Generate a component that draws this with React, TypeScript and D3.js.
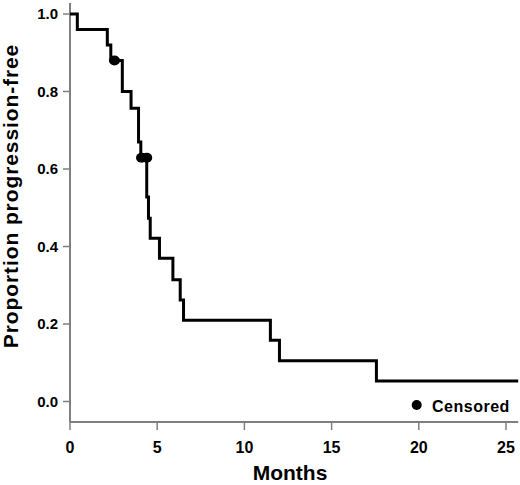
import React from "react";
import * as d3 from "d3";

// Kaplan-Meier steps: each level starts at the given month
const stepMonths = [0, 0.42, 2.14, 2.34, 3.0, 3.5, 3.93, 4.06, 4.4, 4.5, 4.6, 5.13, 5.9, 6.32, 6.51, 11.49, 12.01, 17.57];
const stepValues = [1.0, 0.96, 0.92, 0.88, 0.8, 0.757, 0.67, 0.629, 0.528, 0.473, 0.421, 0.37, 0.314, 0.262, 0.21, 0.158, 0.105, 0.053];
const lastMonth = 25.7;

const censorMonths = [2.55, 4.1, 4.4];
const censorValues = [0.88, 0.629, 0.629];

const xTicks = [0, 5, 10, 15, 20, 25];
const yTicks = [0, 0.2, 0.4, 0.6, 0.8, 1.0];

const font = "'Liberation Sans', Arial, sans-serif";
const axisColor = "#7f7f7f";

export default function App() {
  const width = 520;
  const height = 485;
  const axisY = 422;

  const x = d3.scaleLinear().domain([0, 25]).range([70, 506]);
  const y = d3.scaleLinear().domain([0, 1]).range([401.5, 14]);

  const points: [number, number][] = stepMonths.map((m, i) => [m, stepValues[i]]);
  points.push([lastMonth, stepValues[stepValues.length - 1]]);

  const line = d3
    .line<[number, number]>()
    .x((d) => x(d[0]))
    .y((d) => y(d[1]))
    .curve(d3.curveStepAfter);

  return (
    <svg width={width} height={height} style={{ position: "absolute", left: 0, top: 0, background: "#fff" }}>
      {/* axes */}
      <line x1={x(0)} x2={x(0)} y1={3} y2={axisY} stroke={axisColor} strokeWidth={2} />
      <line x1={x(0)} x2={x(lastMonth)} y1={axisY} y2={axisY} stroke={axisColor} strokeWidth={2} />

      {yTicks.map((t) => (
        <g key={"y" + t}>
          <line x1={x(0) - 7} x2={x(0)} y1={y(t)} y2={y(t)} stroke={axisColor} strokeWidth={1.5} />
          <text x={58} y={y(t)} dy="0.36em" textAnchor="end" fontFamily={font} fontWeight="bold" fontSize={15} fill="#000">
            {t.toFixed(1)}
          </text>
        </g>
      ))}

      {xTicks.map((t) => (
        <g key={"x" + t}>
          <line x1={x(t)} x2={x(t)} y1={axisY} y2={axisY + 8} stroke={axisColor} strokeWidth={1.5} />
          <text x={x(t)} y={453} textAnchor="middle" fontFamily={font} fontWeight="bold" fontSize={16} fill="#000">
            {t}
          </text>
        </g>
      ))}

      {/* axis titles */}
      <text x={290} y={480} textAnchor="middle" fontFamily={font} fontWeight="bold" fontSize={21} fill="#000">
        Months
      </text>
      <text
        transform="translate(18,196) rotate(-90)"
        textAnchor="middle"
        fontFamily={font}
        fontWeight="bold"
        fontSize={21}
        letterSpacing={0.9}
        fill="#000"
      >
        Proportion progression-free
      </text>

      {/* survival curve */}
      <path d={line(points) ?? ""} fill="none" stroke="#000" strokeWidth={3} />

      {censorMonths.map((m, i) => (
        <ellipse key={"c" + i} cx={x(m)} cy={y(censorValues[i])} rx={5.5} ry={5} fill="#000" />
      ))}

      {/* legend */}
      <circle cx={416.7} cy={405} r={5} fill="#000" />
      <text x={432} y={411.5} fontFamily={font} fontWeight="bold" fontSize={16} letterSpacing={0.5} fill="#000">
        Censored
      </text>
    </svg>
  );
}
